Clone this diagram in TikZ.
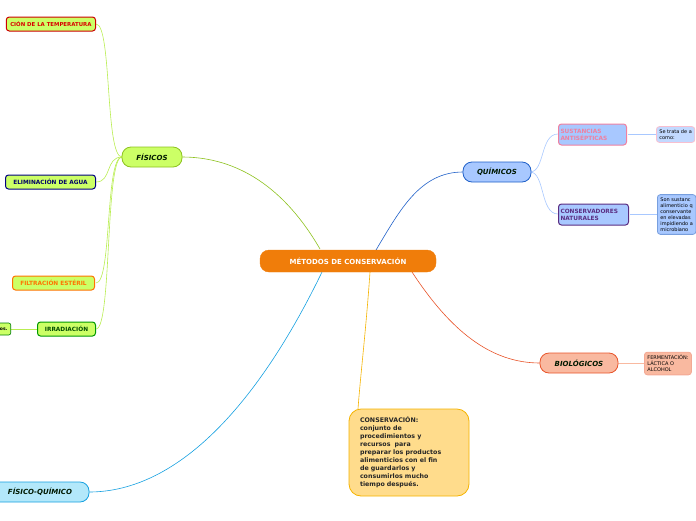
\documentclass[tikz,border=0pt]{standalone}
\usepackage{fontspec}
\setmainfont{DejaVu Sans}
\begin{document}
\begin{tikzpicture}[x=1pt,y=-1pt,
  box/.style={draw,rounded corners=3pt,line width=1pt,inner sep=2pt,minimum height=14pt,font=\bfseries\fontsize{5.8}{7}\selectfont},
  main/.style={draw,rounded corners=9pt,line width=0.8pt,minimum height=20pt,font=\bfseries\itshape\fontsize{7}{8}\selectfont,text=black!80!green!50!black},
  note/.style={draw,rounded corners=3pt,line width=0.8pt,align=left,inner sep=3pt,font=\fontsize{5}{6}\selectfont},
  lk/.style={line width=0.6pt}]
\useasboundingbox (0,0) rectangle (696,520);
\definecolor{lime}{HTML}{CCFF66}\definecolor{limeD}{HTML}{8DC21F}
\definecolor{blu}{HTML}{A8C8FF}\definecolor{bluD}{HTML}{1E5FC8}
\definecolor{sal}{HTML}{F9B9A0}\definecolor{salD}{HTML}{E8542A}
\definecolor{cya}{HTML}{B3E8FA}\definecolor{cyaD}{HTML}{15A0E0}
\definecolor{yel}{HTML}{FFDC8C}\definecolor{yelD}{HTML}{F5B300}
\definecolor{org}{HTML}{F07D0A}\definecolor{pnk}{HTML}{F080A0}\definecolor{pur}{HTML}{5A2D82}
% links
\draw[lk,limeD] (320,249) .. controls (280,180) and (230,157) .. (182,157);
\draw[lk,bluD] (376,250) .. controls (400,210) and (420,172) .. (463,172);
\draw[lk,salD] (412,272) .. controls (450,330) and (490,363) .. (540,363);
\draw[lk,cyaD] (322,272) .. controls (260,400) and (180,492) .. (89,492);
\draw[lk,yelD] (370,272) .. controls (366,330) and (360,380) .. (358,409);
\foreach \y in {24,182,283,329}{
  \draw[lk,lime!70!limeD] (122,157) .. controls (105,157) and (112,\y) .. (96,\y);}
\draw[lk,lime!70!limeD] (38,329) -- (11,329);
\draw[lk,blu] (530,172) .. controls (545,172) and (540,134) .. (558,134);
\draw[lk,blu] (530,172) .. controls (545,172) and (540,214) .. (558,214);
\draw[lk,blu] (628,134) -- (656,134);
\draw[lk,blu] (630,214) -- (657,214);
\draw[lk,sal] (618,363) -- (644,363);
% main nodes
\node[draw=org,fill=org,rounded corners=9pt,minimum width=176pt,minimum height=22pt,text=white,font=\bfseries\fontsize{7}{8}\selectfont] (c) at (348,261) {MÉTODOS DE CONSERVACIÓN};
\node[main,fill=lime,draw=limeD,minimum width=60pt] (f) at (152,157) {FÍSICOS};
\node[main,fill=blu,draw=bluD,minimum width=68pt] (q) at (497,172) {QUÍMICOS};
\node[main,fill=sal,draw=salD,minimum width=78pt] (b) at (579,363) {BIOLÓGICOS};
\node[main,fill=cya,draw=cyaD,minimum width=98pt] (fq) at (40,492) {FÍSICO-QUÍMICO};
\node[draw=yelD,fill=yel,rounded corners=12pt,line width=0.8pt,minimum width=120pt,minimum height=87pt,text width=98pt,align=left,font=\bfseries\fontsize{6.3}{8}\selectfont,text=black!85] (n) at (409,452.5) {CONSERVACIÓN:\\conjunto de\\procedimientos y\\recursos\ \ para\\preparar los productos\\alimenticios con el fin\\de guardarlos y\\consumirlos mucho\\tiempo después.};
% left subnodes
\node[box,fill=lime,draw=red!80!black,text=red!85!black,anchor=east,inner xsep=4pt,font=\bfseries\fontsize{5.4}{7}\selectfont] (t1) at (96,24) {CIÓN DE LA TEMPERATURA};
\node[box,fill=lime,draw=blue!50!black,text=blue!40!black,anchor=east,minimum width=90pt] (t2) at (96,182) {ELIMINACIÓN DE AGUA};
\node[box,fill=lime,draw=orange!90!red,text=orange!90!red,anchor=east,minimum width=82pt] (t3) at (95,283) {FILTRACIÓN ESTÉRIL};
\node[box,fill=lime,draw=green!60!black,text=green!30!black,anchor=east,minimum width=58pt] (t4) at (96,329) {IRRADIACIÓN};
\node[draw=green!50!black,fill=lime,rounded corners=2pt,line width=0.6pt,minimum width=18pt,minimum height=12pt,inner sep=0pt,anchor=east,font=\bfseries\fontsize{4.5}{5}\selectfont] (t5) at (11,329) {\hspace*{4pt}os.};
% right subnodes
\node[box,fill=blu,draw=pnk,text=pnk,align=left,anchor=west,text width=64pt,minimum height=21pt] (s1) at (558,134.5) {SUSTANCIAS\\ANTISÉPTICAS};
\node[box,fill=blu,draw=pur,text=pur,align=left,anchor=west,text width=66pt,minimum height=21pt] (s2) at (558,214.5) {CONSERVADORES\\NATURALES};
\node[note,fill=blu!70,draw=pnk!50,anchor=west] (s3) at (656,134.5) {Se trata de a\\como:};
\node[note,fill=blu,draw=bluD!60,anchor=west] (s4) at (657,214.5) {Son sustanc\\alimenticio q\\conservante\\en elevadas\\impidiendo a\\microbiano};
\node[note,fill=sal,draw=salD!50,anchor=west] (s5) at (644,363.5) {FERMENTACIÓN:\\LÁCTICA O\\ALCOHOL};
\end{tikzpicture}
\end{document}
